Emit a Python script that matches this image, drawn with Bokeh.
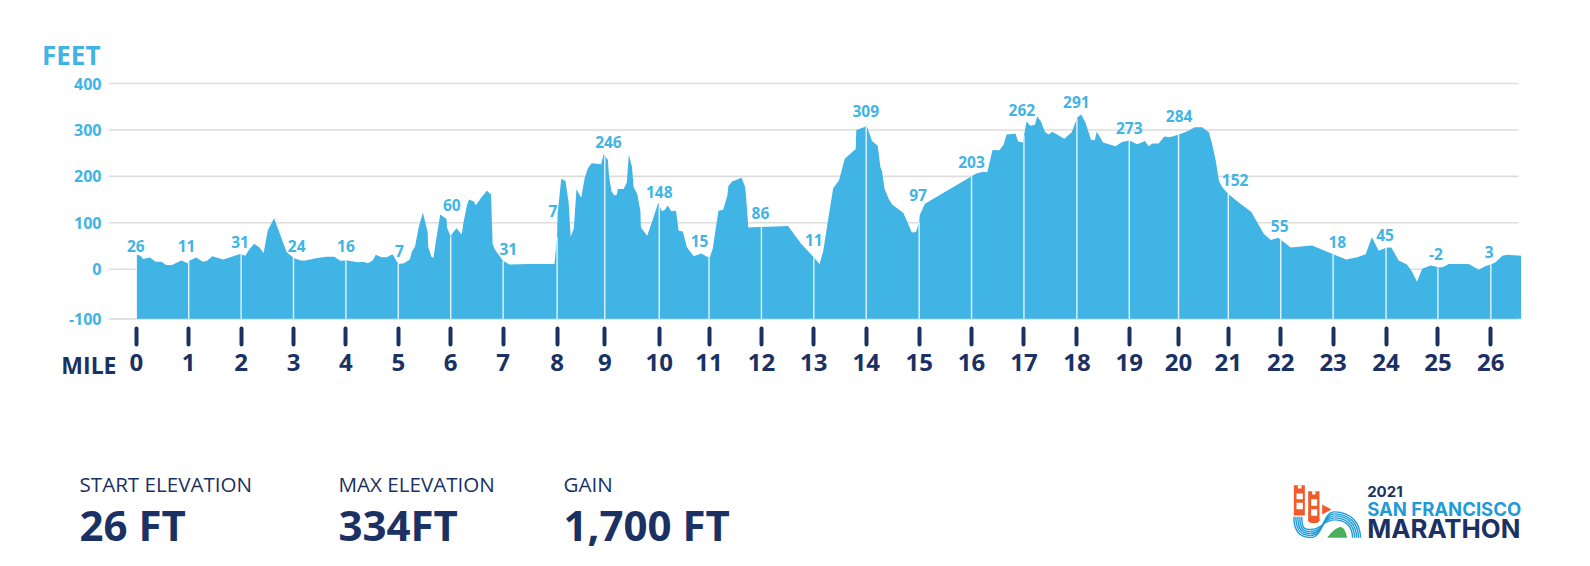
from bokeh.plotting import figure
from bokeh.layouts import column
from bokeh.models import Range1d, FixedTicker, Label
from bokeh.core.properties import value
from bokeh.embed import file_html
from bokeh.resources import INLINE
import numpy as np

# ---------- data ----------
course_pos = [0.00,.08,.13,.26,.37,.48,.57,.68,.86,.98,1.02,1.14,1.27,1.35,1.45,1.66,1.85,1.98,2.08,2.15,2.25,2.35,2.43,2.51,2.63,2.75,2.87,3.0,3.14,3.23,3.40,3.62,3.78,3.89,4.03,4.23,4.33,4.42,4.51,4.57,4.68,4.78,4.89,5.0,5.11,5.22,5.26,5.32,5.39,5.47,5.56,5.57,5.63,5.67,5.71,5.80,5.92,5.93,6.0,6.03,6.11,6.21,6.24,6.31,6.35,6.44,6.48,6.58,6.69,6.77,6.80,6.84,7.0,7.12,7.5,7.98,
8.03,8.04,8.11,8.19,8.25,8.29,8.35,8.40,8.49,8.56,8.62,8.69,8.87,8.92,9.0,9.02,9.07,9.13,9.17,9.19,9.30,9.36,9.40,9.46,9.49,9.56,9.62,9.63,9.75,9.86,9.96,10.03,10.09,10.14,10.21,10.30,10.35,10.43,10.51,10.64,10.78,10.94,11.0,11.11,11.20,11.28,11.30,11.37,11.55,11.62,11.65,11.68,12.44,12.68,12.91,13.04,13.11,13.2,13.3,13.41,13.52,13.73,13.74,13.91,13.93,14.04,14.15,14.2,14.23,14.28,14.36,14.43,14.64,14.80,14.88,14.94,14.95,15.05,15.94,16.03,16.16,16.24,16.34,16.47,16.55,16.61,16.78,16.83,16.92,16.94,16.99,17.06,17.15,17.19,17.26,17.34,17.41,17.48,
17.71,17.85,17.96,18.03,18.11,18.22,18.29,18.33,18.45,18.69,18.81,18.95,19.1,19.25,19.32,19.39,19.51,19.62,19.72,19.90,20.06,20.2,20.34,20.47,20.53,20.6,20.66,20.72,20.84,21.07,21.28,21.39,21.52,21.65,21.79,21.85,22.03,22.44,22.84,23.09,23.3,23.46,23.58,23.71,23.85,23.95,24.09,24.25,24.35,24.44,24.54,24.7,24.85,24.93,25.05,25.43,25.62,25.75,25.85,25.94,26.07,26.16,26.43]
elevation_ft = [32,29,22,25,16,16,9,9,19,13,19,25,16,18,28,21,28,33,29,42,55,47,35,84,110,73,37,24,19,19,23,27,27,18,19,15,16,13,19,31,26,26,32,11,13,21,38,49,91,122,80,49,27,24,55,118,108,90,70,77,88,75,98,138,150,146,138,154,169,161,55,43,18,10,11,11,
69,119,195,190,144,70,88,172,154,198,218,228,226,248,235,202,167,159,161,173,173,187,247,220,177,162,126,90,72,108,143,125,128,137,125,126,83,81,47,28,34,24,44,126,128,159,179,189,197,177,137,90,93,56,28,11,39,105,175,191,238,259,300,307,312,276,266,220,212,173,151,139,121,79,80,101,116,141,200,206,210,209,257,256,268,290,292,275,273,288,318,309,311,329,319,296,290,296,
281,295,327,333,317,279,278,296,273,265,274,277,269,276,265,271,271,286,284,290,297,306,306,295,270,234,191,177,162,141,123,101,76,63,68,63,47,51,32,21,26,32,69,40,46,47,19,10,-6,-27,1,8,4,4,11,11,-1,7,10,15,29,31,29]

mile_names = [str(i) for i in range(27)]
mile_pos = [0,1,2,3,4,5,6,7,8.03,8.94,9.98,10.93,11.93,12.93,13.93,14.94,15.94,16.94,17.95,18.95,19.89,20.84,21.84,22.84,23.85,24.84,25.85]
mile_text = ["26","11","31","24","16","7","60","31","7","246","148","15","86","11","309","97","203","262","291","273","284","152","55","18","45","-2","3"]
text_pos = [-.01,.96,1.98,3.06,4.0,5.02,6.02,7.10,7.95,9.01,9.98,10.75,11.91,12.93,13.92,14.92,15.94,16.9,17.94,18.95,19.90,20.97,21.82,22.92,23.83,24.80,25.82]
text_ft = [51,51,58,51,51,39,138,43,125,275,166,60,121,62,340,159,232,344,360,305,329,192,92,58,73,32,38]
grid_ft = [400,300,200,100,0]
FLOOR_FT = -107   # the drawn "-100" line sits a little below a true -100

stats_head = ["START ELEVATION","MAX ELEVATION","GAIN"]
stats_val = ["26 FT","334FT","1,700 FT"]

# ---------- style ----------
BLUE = "#41B4E6"; NAVY = "#1B3163"; GRID = "#DDDDDD"; FONT = "Open Sans"
PX_PER_UNIT = 52.4; X0_PAGE = 135.8; Y0_PAGE = 268.7; PX_PER_FT = 0.4642
def xd(page): return (page - X0_PAGE) / PX_PER_UNIT
def yd(page): return (Y0_PAGE - page) / PX_PER_FT

F_LEFT, F_RIGHT, F_TOP, F_BOT = 108, 1521, 40, 328
W, H1, H2 = 1574, 390, 166
p = figure(width=W, height=H1, output_backend="svg", toolbar_location=None,
           x_range=Range1d(xd(F_LEFT), xd(F_RIGHT)), y_range=Range1d(yd(F_BOT), yd(F_TOP)),
           min_border_left=F_LEFT, min_border_right=W-F_RIGHT, min_border_top=F_TOP,
           min_border_bottom=H1-F_BOT, outline_line_color=None, background_fill_color="white")
p.grid.visible = False

# y axis
ya = p.yaxis[0]
ya.ticker = FixedTicker(ticks=[FLOOR_FT]+grid_ft)
ya.major_label_overrides = {FLOOR_FT: "-100"}
ya.axis_line_color = None; ya.major_tick_line_color = None; ya.minor_tick_line_color = None
ya.major_tick_out = 0; ya.major_tick_in = 0; ya.major_label_standoff = 7
ya.major_label_text_font = FONT; ya.major_label_text_font_style = "bold"
ya.major_label_text_font_size = "16px"; ya.major_label_text_color = BLUE

# x axis
xa = p.xaxis[0]
xa.ticker = FixedTicker(ticks=mile_pos)
xa.major_label_overrides = dict(zip(mile_pos, mile_names))
xa.axis_line_color = None; xa.minor_tick_line_color = None
xa.major_tick_in = 0; xa.major_tick_out = 16
xa.major_tick_line_color = NAVY; xa.major_tick_line_width = 4; xa.major_tick_line_cap = "round"
xa.major_label_standoff = 9
xa.major_label_text_font = FONT; xa.major_label_text_font_style = "bold"
xa.major_label_text_font_size = "24px"; xa.major_label_text_color = NAVY

# grid
gy = [FLOOR_FT]+grid_ft
p.segment(x0=[xd(F_LEFT)]*len(gy), y0=gy, x1=[xd(1518)]*len(gy), y1=gy, line_color=GRID, line_width=1.6)

# profile
p.varea(x=course_pos, y1=[FLOOR_FT]*len(course_pos), y2=elevation_ft, fill_color=BLUE)
tops = np.interp(mile_pos, course_pos, elevation_ft)
p.segment(x0=mile_pos, y0=[FLOOR_FT]*27, x1=mile_pos, y1=tops, line_color="white", line_width=1.4, line_alpha=0.85)

p.text(x=text_pos, y=text_ft, text=mile_text, text_align="center", text_baseline="middle",
       text_font=value(FONT), text_font_style="bold", text_font_size="15.5px", text_color=BLUE)

# side-panel labels are not clipped to the frame
p.add_layout(Label(x=xd(41.5), y=yd(54), text="FEET", text_font=FONT, text_font_style="bold",
                   text_font_size="26px", text_color=BLUE, text_align="left", text_baseline="middle"), "above")
p.add_layout(Label(x=xd(116), y=yd(364), text="MILE", text_font=FONT, text_font_style="bold",
                   text_font_size="23px", text_color=NAVY, text_align="right", text_baseline="middle"), "left")

# ---------- bottom strip: page coordinates ----------
Q_TOP = 450
q = figure(width=W, height=H2, output_backend="svg", toolbar_location=None,
           x_range=Range1d(F_LEFT, F_RIGHT), y_range=Range1d(H1+H2, Q_TOP),
           min_border_left=F_LEFT, min_border_right=W-F_RIGHT, min_border_top=Q_TOP-H1, min_border_bottom=0,
           outline_line_color=None, x_axis_location=None, y_axis_location=None)
q.grid.visible = False
for i, (xp, head, val) in enumerate(zip([79, 338, 563], stats_head, stats_val)):
    kw = dict(text_font=value(FONT), text_color=NAVY, text_align="left", text_baseline="middle")
    if i == 0:
        q.add_layout(Label(x=xp, y=483, text=head, text_font=FONT, text_font_size="20.6px", text_color=NAVY,
                           text_align="left", text_baseline="middle"), "above")
        q.add_layout(Label(x=xp, y=524, text=val, text_font=FONT, text_font_style="bold", text_font_size="42px",
                           text_color=NAVY, text_align="left", text_baseline="middle"), "left")
    else:
        q.text(x=[xp], y=[483], text=[head], text_font_size="20.6px", **kw)
        q.text(x=[xp], y=[524], text=[val], text_font_style="bold", text_font_size="42px", **kw)

# logo (zoomed-crop units -> page)
lx = lambda z: 1260 + z/3
ly = lambda z: 465 + z/3
ORANGE = "#F15A29"; LOGO_BLUE = "#1F9BD7"; GREEN = "#4CAF5A"
for (a, b, c, d) in [(100,133,59,150),(143,177,77,165)]:
    q.quad(left=[lx(a)], right=[lx(b)], top=[ly(c)], bottom=[ly(d)], fill_color=ORANGE, line_color=None)
q.ellipse(x=[lx(160)], y=[ly(165)], width=[34/3], height=[16/3], fill_color=ORANGE, line_color=None)
for (a, b, c, d) in [(108,127,84,101),(108,127,112,131),(152,170,101,121),(152,170,131,151),
                     (112,123,59,69),(155,165,77,87)]:
    q.quad(left=[lx(a)], right=[lx(b)], top=[ly(c)], bottom=[ly(d)], fill_color="white", line_color=None)
q.patch(x=[lx(185),lx(213),lx(185)], y=[ly(117),ly(132),ly(147)], fill_color=ORANGE, line_color=None)
q.patch(x=[lx(v) for v in (200,212,226,240,250,256,260)], y=[ly(v) for v in (217,202,190,184,190,202,217)],
        fill_color=GREEN, line_color=None)
for i in range(5):
    d = i*6
    q.bezier(x0=[lx(100+d)], y0=[ly(154)], x1=[lx(150)], y1=[ly(216-d)],
             cx0=[lx(100+d)], cy0=[ly(205-d)], cx1=[lx(125)], cy1=[ly(216-d)], line_color=LOGO_BLUE, line_width=1.4)
    q.bezier(x0=[lx(150)], y0=[ly(216-d)], x1=[lx(222)], y1=[ly(139+d)],
             cx0=[lx(190)], cy0=[ly(216-d)], cx1=[lx(185)], cy1=[ly(139+d)], line_color=LOGO_BLUE, line_width=1.4)
    q.bezier(x0=[lx(222)], y0=[ly(139+d)], x1=[lx(300-d)], y1=[ly(217)],
             cx0=[lx(272-d)], cy0=[ly(139+d)], cx1=[lx(300-d)], cy1=[ly(175)], line_color=LOGO_BLUE, line_width=1.4)
for txt, y, size, col in [("2021",491,"15px",NAVY),("SAN FRANCISCO",508,"18.5px",LOGO_BLUE),("MARATHON",528,"25.8px",NAVY)]:
    q.text(x=[lx(320)], y=[y], text=[txt], text_font=value("Inter"), text_font_style="bold", text_font_size=size,
           text_color=col, text_align="left", text_baseline="middle")

open("out.html", "w").write(file_html(column(p, q, spacing=0), INLINE))
